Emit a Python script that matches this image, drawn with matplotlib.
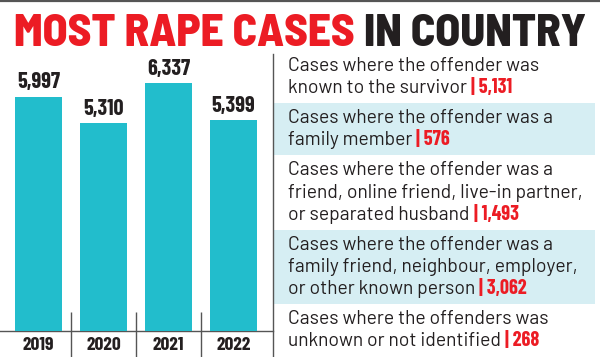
import matplotlib
matplotlib.use("Agg")
import matplotlib.pyplot as plt

# data
years = ["2019", "2020", "2021", "2022"]
cases = [5997, 5310, 6337, 5399]

offender_lines = [
    ["Cases where the offender was", "known to the survivor"],
    ["Cases where the offender was a", "family member"],
    ["Cases where the offender was a", "friend, online friend, live-in partner,", "or separated husband"],
    ["Cases where the offender was a", "family friend, neighbour, employer,", "or other known person"],
    ["Cases where the offenders was", "unknown or not identified"],
]
offender_counts = ["5,131", "576", "1,493", "3,062", "268"]

RED = "#ec1c24"
DARK = "#231f20"
TEAL = "#22bdcc"
SHADE = "#d6eef3"
LINE = "#555555"

HEAVY = ["Barlow Condensed", "DejaVu Sans"]
TITLE = ["Barlow Semi Condensed", "DejaVu Sans"]
BODY = ["Barlow", "DejaVu Sans"]

W, H = 600, 357
fig = plt.figure(figsize=(6, 3.57), dpi=100)
fig.patch.set_facecolor("white")

# overlay in pixel coords for decoration and text
ov = fig.add_axes([0, 0, 1, 1])
ov.set_xlim(0, W)
ov.set_ylim(H, 0)
ov.axis("off")

ov.plot([0, W], [0.8, 0.8], color=LINE, lw=1.6)

t1 = ov.text(14, 45.5, "MOST RAPE CASES", color=RED, fontsize=32.5, fontweight=800,
             family=TITLE, va="baseline", ha="left")
ov.annotate(" IN COUNTRY", xy=(1, 0), xycoords=t1, color=DARK, fontsize=32.5,
            fontweight=800, family=TITLE, va="bottom", ha="left")

# divider and baseline
ov.plot([273, 273], [54, H], color=LINE, lw=1.0)
ov.plot([0, 273], [330.5, 330.5], color=LINE, lw=1.0)

# right panel rows
line_h = 22.3
y = 51
for i, lines in enumerate(offender_lines):
    row_h = len(lines) * line_h + 7.5
    if i % 2 == 1:
        ov.fill_between([273.5, 595], y, y + row_h, color=SHADE, lw=0)
    for j, ln in enumerate(lines):
        ty = y + 15 + j * line_h
        t = ov.text(288, ty, ln, fontsize=13.9, color=DARK, family=BODY,
                    va="center", ha="left")
        if j == len(lines) - 1:
            ov.annotate(" | " + offender_counts[i], xy=(1, 0), xycoords=t,
                        fontsize=14.5, color=RED, fontweight="bold", family=HEAVY,
                        va="bottom", ha="left")
    y += row_h

# bar chart
scale = 0.039  # px per case
ax = fig.add_axes([0, (H - 330.5) / H, 273 / W, 260 / H])
ax.patch.set_alpha(0)
x = range(len(years))
ax.bar(x, cases, width=47 / 65, color=TEAL)
ax.set_xlim(-38.5 / 65, (273 - 38.5) / 65)
ax.set_ylim(0, 260 / scale)
ax.axis("off")
for xi, v in zip(x, cases):
    ax.annotate(f"{v:,}", xy=(xi, v), xytext=(0, 3), textcoords="offset points",
                ha="center", va="bottom", fontsize=16, fontweight="bold",
                color=DARK, family=HEAVY)
    ax.annotate(years[xi], xy=(xi, 0), xytext=(0, -11), textcoords="offset points",
                ha="center", va="center", fontsize=14, fontweight="bold",
                color=DARK, family=HEAVY, annotation_clip=False)
ax.vlines([0.5, 1.5, 2.5], -27 / scale, 19 / scale, color=LINE, lw=1.0,
          clip_on=False)

fig.savefig("out.png", dpi=100, facecolor="white")
